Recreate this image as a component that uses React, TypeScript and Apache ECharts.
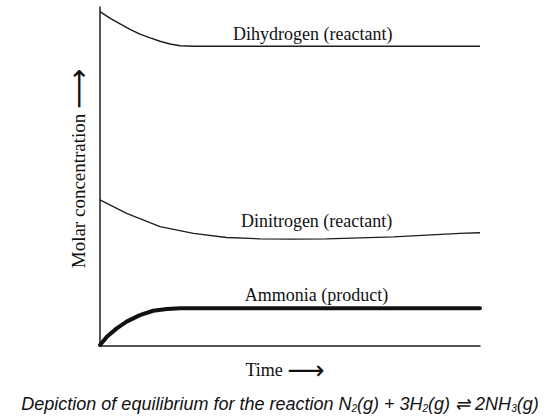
import React, { useEffect, useRef } from "react";
import * as echarts from "echarts";

const dihydrogenX = [0, 2.6, 5.3, 7.9, 10.5, 13.2, 15.8, 18.4, 21.1, 24.5, 40, 60, 80, 100];
const dihydrogenY = [98.6, 96.7, 95.0, 93.4, 92.0, 90.9, 89.9, 89.1, 88.6, 88.4, 88.4, 88.4, 88.4, 88.4];

const dinitrogenX = [0, 7.0, 15.8, 24.6, 33.3, 42.1, 50.9, 59.6, 68.4, 77.2, 86.0, 94.7, 100];
const dinitrogenY = [43.1, 39.1, 35.2, 33.2, 32.0, 31.6, 31.5, 31.6, 31.9, 32.2, 32.7, 33.2, 33.4];

const ammoniaX = [0, 1.8, 4.4, 7.0, 10.5, 14.0, 17.6, 21.1, 40, 60, 80, 100];
const ammoniaY = [0.3, 2.7, 5.2, 7.2, 9.1, 10.4, 10.9, 11.1, 11.1, 11.1, 11.1, 11.1];

const seriesNames = ["Dihydrogen (reactant)", "Dinitrogen (reactant)", "Ammonia (product)"];
const xAxisName = "Time {a|⟶}";
const yAxisName = "Molar concentration {a|⟶}";

const zip = (xs: number[], ys: number[]) => xs.map((x, i) => [x, ys[i]]);

export default function App() {
  const ref = useRef<HTMLDivElement>(null);
  useEffect(() => {
    document.body.style.margin = "0";
    const chart = echarts.init(ref.current!, undefined, { renderer: "svg" });
    const serif = "'Liberation Serif', 'DejaVu Serif', serif";
    const lineColor = "#1e1e1e";
    const labelMark = (name: string, coord: number[], distance: number) => ({
      symbol: "circle",
      symbolSize: 1,
      itemStyle: { color: "transparent" },
      data: [{ coord }],
      label: {
        show: true,
        formatter: name,
        position: "top",
        distance,
        fontFamily: serif,
        fontSize: 18,
        color: "#111",
      },
    });
    chart.setOption({
      animation: false,
      backgroundColor: "#ffffff",
      grid: { left: 100, right: 80, top: 7, bottom: 74 },
      title: {
        text:
          "Depiction of equilibrium for the reaction N{s|2}(g) + 3H{s|2}(g) ⇌ 2NH{s|3}(g)",
        left: "center",
        top: 389,
        textStyle: {
          fontFamily: "'Liberation Sans', Arial, sans-serif",
          fontStyle: "italic",
          fontWeight: "normal",
          fontSize: 18,
          color: "#111",
          rich: {
            s: {
              fontFamily: "'Liberation Sans', Arial, sans-serif",
              fontStyle: "italic",
              fontSize: 10,
              color: "#111",
              verticalAlign: "bottom",
              padding: [9, 0, 0, 0],
            },
          },
        },
      },
      xAxis: {
        type: "value",
        min: 0,
        max: 100,
        name: xAxisName,
        nameLocation: "middle",
        nameGap: 11,
        nameTextStyle: {
          fontFamily: serif,
          fontSize: 18,
          color: "#111",
          padding: [0, 10, 0, 0],
          rich: { a: { fontFamily: "'DejaVu Sans', sans-serif", fontSize: 26, color: "#111" } },
        },
        axisLine: { lineStyle: { color: lineColor, width: 1.5 } },
        axisTick: { show: false },
        axisLabel: { show: false },
        splitLine: { show: false },
      },
      yAxis: {
        type: "value",
        min: 0,
        max: 100,
        name: yAxisName,
        nameLocation: "middle",
        nameRotate: 90,
        nameGap: 8,
        nameTextStyle: {
          fontFamily: serif,
          fontSize: 19,
          color: "#111",
          padding: [0, 0, 0, 16],
          rich: { a: { fontFamily: "'DejaVu Sans', sans-serif", fontSize: 28, color: "#111" } },
        },
        axisLine: { show: true, lineStyle: { color: lineColor, width: 1.5 } },
        axisTick: { show: false },
        axisLabel: { show: false },
        splitLine: { show: false },
      },
      series: [
        {
          name: seriesNames[0],
          type: "line",
          smooth: false,
          showSymbol: false,
          data: zip(dihydrogenX, dihydrogenY),
          lineStyle: { color: lineColor, width: 1.5 },
          markPoint: labelMark(seriesNames[0], [56, 88.4], 3),
        },
        {
          name: seriesNames[1],
          type: "line",
          smooth: false,
          showSymbol: false,
          data: zip(dinitrogenX, dinitrogenY),
          lineStyle: { color: lineColor, width: 1.3 },
          markPoint: labelMark(seriesNames[1], [57, 31.6], 8),
        },
        {
          name: seriesNames[2],
          type: "line",
          smooth: false,
          showSymbol: false,
          data: zip(ammoniaX, ammoniaY),
          lineStyle: { color: "#111", width: 4, join: "round", cap: "round" },
          markPoint: labelMark(seriesNames[2], [57, 11.1], 4),
        },
      ],
    });
    return () => chart.dispose();
  }, []);
  return <div ref={ref} style={{ width: 560, height: 420 }} />;
}
